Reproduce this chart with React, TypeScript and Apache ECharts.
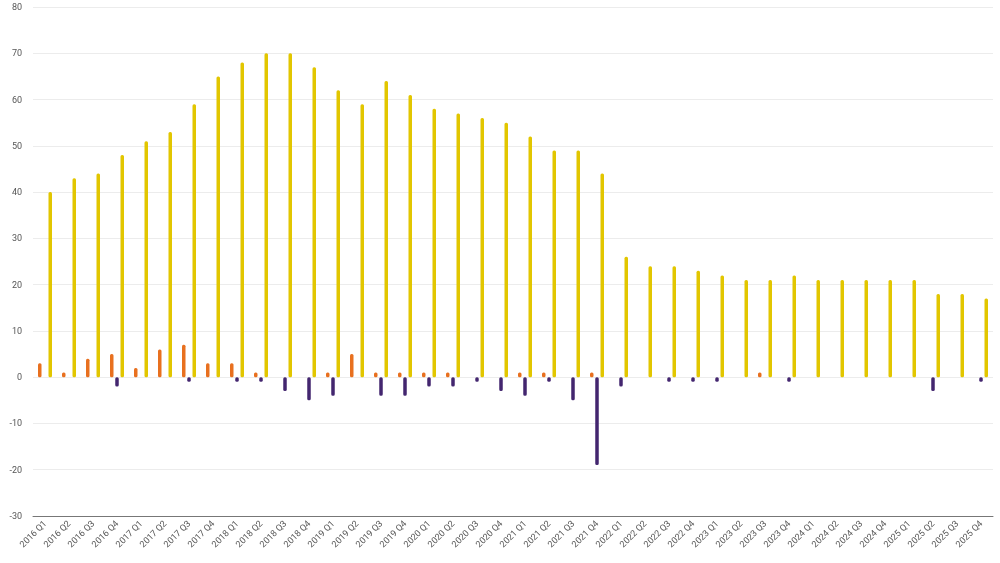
import React, { useEffect, useRef } from 'react';
import * as echarts from 'echarts';

const years = [2016, 2017, 2018, 2019, 2020, 2021, 2022, 2023, 2024, 2025];
const quarters = ['Q1', 'Q2', 'Q3', 'Q4'];
const categories = years.flatMap((y) => quarters.map((q) => `${y} ${q}`));

const orangeValues = [
    3, 1, 4, 5, 2, 6, 7, 3, 3, 1, 0, 0, 1, 5, 1, 1, 1, 1, 0, 0,
    1, 1, 0, 1, 0, 0, 0, 0, 0, 0, 1, 0, 0, 0, 0, 0, 0, 0, 0, 0,
];
const purpleValues = [
    0, 0, 0, -2, 0, 0, -1, 0, -1, -1, -3, -5, -4, 0, -4, -4, -2, -2, -1, -3,
    -4, -1, -5, -19, -2, 0, -1, -1, -1, 0, 0, -1, 0, 0, 0, 0, 0, -3, 0, -1,
];
const yellowValues = [
    40, 43, 44, 48, 51, 53, 59, 65, 68, 70, 70, 67, 62, 59, 64, 61, 58, 57, 56, 55,
    52, 49, 49, 44, 26, 24, 24, 23, 22, 21, 21, 22, 21, 21, 21, 21, 21, 18, 18, 17,
];

const toData = (vals: number[]) => vals.map((v) => (v === 0 ? null : v));

const App = () => {
    const chartRef = useRef<HTMLDivElement>(null);

    useEffect(() => {
        const myChart = echarts.init(chartRef.current, null, { renderer: 'svg' });

        const barStyle = (color: string) => ({
            type: 'bar' as const,
            barWidth: 3.5,
            barGap: '50%',
            itemStyle: { color, borderRadius: 1.5 },
        });

        myChart.setOption({
            animation: false,
            textStyle: { fontFamily: 'Roboto, sans-serif' },
            grid: { left: 33, right: 7, top: 7, bottom: 47 },
            xAxis: {
                type: 'category',
                data: categories,
                axisLine: { onZero: false, lineStyle: { color: '#777', width: 1 } },
                axisTick: { show: false },
                axisLabel: { rotate: 45, fontSize: 9, color: '#555', margin: 6, interval: 0 },
            },
            yAxis: {
                type: 'value',
                min: -30,
                max: 80,
                interval: 10,
                axisLabel: { fontSize: 9, color: '#555', margin: 11 },
                splitLine: { lineStyle: { color: '#ececec' } },
            },
            series: [
                { name: 'Orange', data: toData(orangeValues), ...barStyle('#E8701F') },
                { name: 'Purple', data: toData(purpleValues), ...barStyle('#43266F') },
                { name: 'Yellow', data: toData(yellowValues), ...barStyle('#E2C600') },
            ],
        });

        return () => {
            myChart.dispose();
        };
    }, []);

    return (
        <div
            ref={chartRef}
            style={{ position: 'fixed', left: 0, top: 0, width: '1000px', height: '563px' }}
        />
    );
};

export default App;
